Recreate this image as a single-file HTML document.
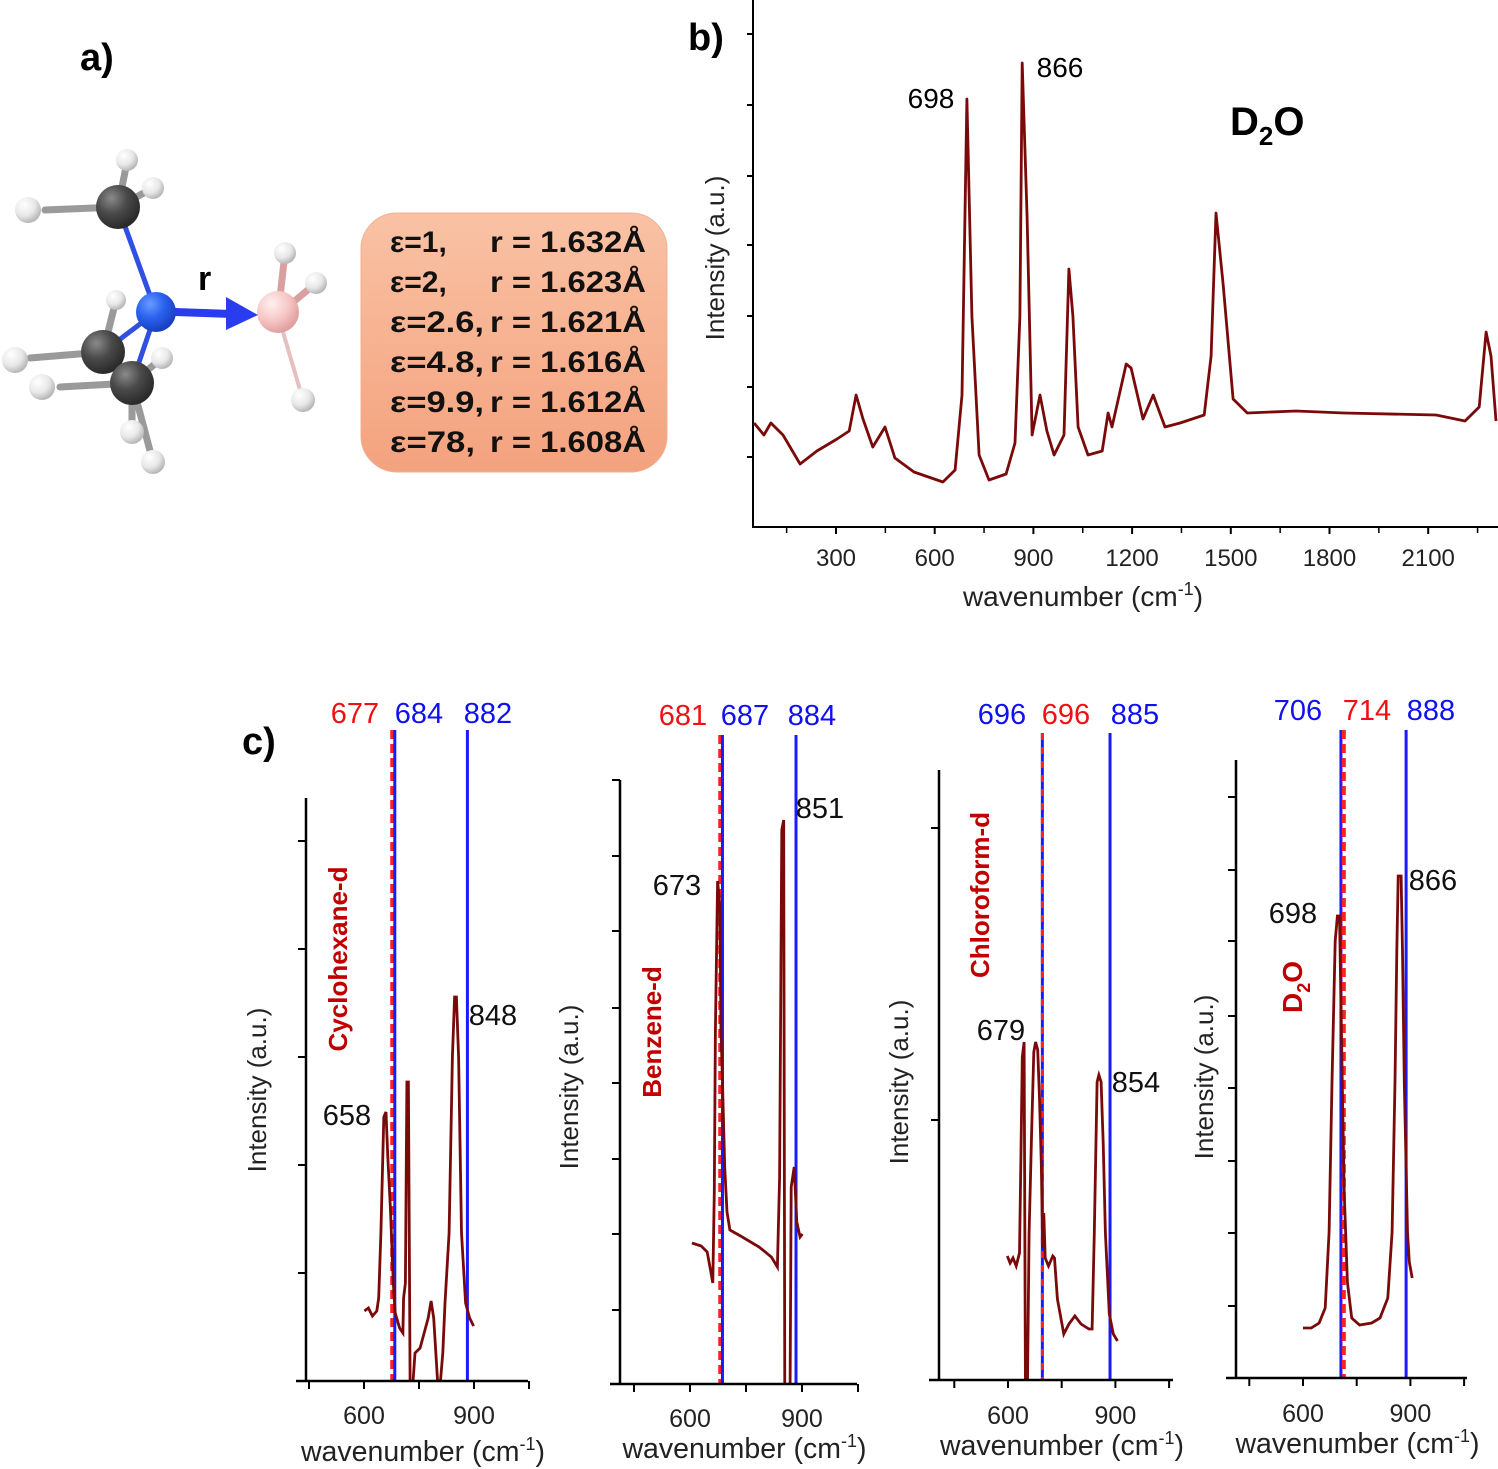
<!DOCTYPE html>
<html><head><meta charset="utf-8">
<style>
html,body{margin:0;padding:0;background:#fff;}
svg{display:block;font-family:"Liberation Sans",Arial,sans-serif;}
</style></head>
<body>
<svg id="fig" xmlns="http://www.w3.org/2000/svg" width="1498" height="1469" viewBox="0 0 1498 1469">
<defs>
<radialGradient id="gC" cx="35%" cy="30%" r="70%"><stop offset="0" stop-color="#8a8a8a"/><stop offset="0.5" stop-color="#4a4a4a"/><stop offset="1" stop-color="#2a2a2a"/></radialGradient>
<radialGradient id="gN" cx="35%" cy="30%" r="70%"><stop offset="0" stop-color="#6a9bff"/><stop offset="0.5" stop-color="#2a63f0"/><stop offset="1" stop-color="#1840c0"/></radialGradient>
<radialGradient id="gB" cx="35%" cy="30%" r="70%"><stop offset="0" stop-color="#fff0f0"/><stop offset="0.6" stop-color="#f6c4c4"/><stop offset="1" stop-color="#e0a0a0"/></radialGradient>
<radialGradient id="gH" cx="35%" cy="30%" r="70%"><stop offset="0" stop-color="#ffffff"/><stop offset="0.6" stop-color="#e8e8e8"/><stop offset="1" stop-color="#b8b8b8"/></radialGradient>
<linearGradient id="gBox" x1="0" y1="0" x2="0" y2="1"><stop offset="0" stop-color="#f9c2a4"/><stop offset="1" stop-color="#f4a27e"/></linearGradient>
</defs>

<!-- Panel a -->
<text x="80" y="70" font-size="38" font-weight="bold">a)</text>
<g>
  <g stroke="#9a9a9a" stroke-width="7" stroke-linecap="round">
    <line x1="118" y1="207" x2="127" y2="162"/><line x1="118" y1="207" x2="153" y2="188"/><line x1="118" y1="207" x2="45" y2="210"/>
    <line x1="103" y1="352" x2="30" y2="358"/><line x1="103" y1="352" x2="116" y2="300"/>
    <line x1="132" y1="383" x2="60" y2="387"/><line x1="132" y1="383" x2="162" y2="358"/><line x1="132" y1="383" x2="132" y2="432"/><line x1="132" y1="383" x2="153" y2="462"/>
    <line x1="278" y1="315" x2="285" y2="253" stroke="#d9a0a0"/><line x1="278" y1="315" x2="316" y2="283" stroke="#d9a0a0"/><line x1="278" y1="315" x2="303" y2="400" stroke="#e6c0c0" stroke-width="4"/>
  </g>
  <line x1="118" y1="207" x2="156" y2="312" stroke="#3050e0" stroke-width="5"/>
  <line x1="103" y1="352" x2="156" y2="312" stroke="#3050e0" stroke-width="5"/>
  <line x1="132" y1="383" x2="156" y2="312" stroke="#3050e0" stroke-width="5"/>
  <circle cx="127" cy="160" r="11" fill="url(#gH)"/><circle cx="153" cy="188" r="11" fill="url(#gH)"/><circle cx="28" cy="210" r="13" fill="url(#gH)"/>
  <circle cx="118" cy="207" r="22" fill="url(#gC)"/>
  <circle cx="116" cy="300" r="10" fill="url(#gH)"/>
  <circle cx="15" cy="360" r="13" fill="url(#gH)"/><circle cx="42" cy="387" r="13" fill="url(#gH)"/><circle cx="162" cy="358" r="11" fill="url(#gH)"/>
  <circle cx="103" cy="352" r="22" fill="url(#gC)"/>
  <circle cx="132" cy="383" r="22" fill="url(#gC)"/>
  <circle cx="132" cy="432" r="12" fill="url(#gH)"/><circle cx="153" cy="462" r="12" fill="url(#gH)"/>
  <circle cx="156" cy="312" r="20" fill="url(#gN)"/>
  <circle cx="285" cy="253" r="11" fill="url(#gH)"/><circle cx="316" cy="283" r="11" fill="url(#gH)"/><circle cx="303" cy="400" r="12" fill="url(#gH)"/>
  <circle cx="278" cy="312" r="21" fill="url(#gB)"/>
  <line x1="175" y1="312" x2="232" y2="314" stroke="#2a3cf0" stroke-width="8"/>
  <polygon points="226,297 258,315 226,330" fill="#2a3cf0"/>
  <text x="198" y="290" font-size="34" font-weight="bold">r</text>
</g>
<g font-size="30" font-weight="bold" fill="#111">
  <rect x="361" y="213" width="306" height="259" rx="36" fill="url(#gBox)" stroke="#f0b090" stroke-width="1"/>
  <text x="390" y="252">ε=1,</text><text x="490" y="252" textLength="156" lengthAdjust="spacingAndGlyphs">r = 1.632Å</text>
  <text x="390" y="292">ε=2,</text><text x="490" y="292" textLength="156" lengthAdjust="spacingAndGlyphs">r = 1.623Å</text>
  <text x="390" y="332" textLength="94" lengthAdjust="spacingAndGlyphs">ε=2.6,</text><text x="490" y="332" textLength="156" lengthAdjust="spacingAndGlyphs">r = 1.621Å</text>
  <text x="390" y="372" textLength="94" lengthAdjust="spacingAndGlyphs">ε=4.8,</text><text x="490" y="372" textLength="156" lengthAdjust="spacingAndGlyphs">r = 1.616Å</text>
  <text x="390" y="412" textLength="94" lengthAdjust="spacingAndGlyphs">ε=9.9,</text><text x="490" y="412" textLength="156" lengthAdjust="spacingAndGlyphs">r = 1.612Å</text>
  <text x="390" y="452" textLength="85" lengthAdjust="spacingAndGlyphs">ε=78,</text><text x="490" y="452" textLength="156" lengthAdjust="spacingAndGlyphs">r = 1.608Å</text>
</g>

<!-- Panel b -->
<text x="688" y="50" font-size="38" font-weight="bold">b)</text>
<g id="pb"></g>

<!-- Panel c -->
<text x="242" y="754" font-size="38" font-weight="bold">c)</text>
<g id="pc"></g>
</svg>

<script>
// ---------- Panel b data ----------
var bWavenumbers = [51,81,102,139,191,242,303,340,361,382,412,449,479,537,625,662,683,698,713,735,765,817,844,859,866,881,896,920,941,963,993,1008,1020,1036,1066,1109,1127,1139,1182,1197,1233,1264,1300,1346,1419,1440,1455,1477,1507,1550,1698,1844,2124,2212,2255,2276,2291,2306];
var bIntensity   = [104,92,104,92,63,76,88,96,132,108,80,100,69,55,45,57,132,428,211,72,47,53,84,211,464,310,92,132,96,72,92,258,211,100,72,76,114,100,163,159,108,132,100,104,112,171,314,242,128,114,116,114,112,106,120,195,171,106];
var bXTicks = [300,600,900,1200,1500,1800,2100];
var bXMinor = [150,450,750,1050,1350,1650,1950,2250];
var bPeakLabels = ["698","866"];

// ---------- Panel c data ----------
var cTickLabels = [600,900];
var cMinorTicks = [450,750,1050];
var cyWn = [601,612,623,635,640,646,654,660,665,672,680,685,697,706,708,713,717,721,726,730,739,753,775,783,790,804,815,821,832,841,847,852,858,866,877,888,899];
var cyInt = [70,73,65,70,83,148,264,269,224,173,98,68,53,48,83,98,299,299,-20,-20,28,33,63,80,63,-20,28,78,148,324,384,384,324,148,78,63,55];
var bzWn = [605,630,646,655,661,665,668,674,680,683,687,693,699,707,740,785,818,834,840,846,851,854,862,868,871,879,886,895,901];
var bzInt = [141,138,132,114,101,192,353,503,478,353,302,217,172,154,147,137,127,117,207,554,564,-20,-20,-20,197,217,162,147,150];
var clWn = [598,606,614,623,632,636,640,645,649,654,659,666,672,677,683,688,693,697,700,704,713,725,730,738,756,770,787,804,826,835,841,849,854,860,866,872,883,894,906];
var clInt = [124,117,122,114,127,222,323,338,-20,-20,147,247,328,338,330,282,217,132,167,122,114,124,122,81,46,56,64,56,51,51,147,298,305,298,237,147,66,46,39];
var dWn = [600,623,645,662,673,681,690,696,702,705,711,715,724,736,758,792,815,837,849,857,862,866,874,878,883,892,897,905];
var dInt = [50,50,55,70,146,296,437,462,462,397,271,186,96,60,53,55,60,80,146,296,427,502,502,427,296,146,116,100];
var cyRefLines = [677,684,882];
var bzRefLines = [681,687,884];
var clRefLines = [696,696,885];
var dRefLines = [706,714,888];

var NS = "http://www.w3.org/2000/svg";
function mk(tag, attrs, parent){
  var e = document.createElementNS(NS, tag);
  for (var k in attrs) e.setAttribute(k, attrs[k]);
  if (parent) parent.appendChild(e);
  return e;
}
var SPEC = "#7a0a0a";

// ---------- draw panel b ----------
(function(){
  var g = document.getElementById('pb');
  var X0=753, Y0=527;
  function bx(w){ return 836 + (w-300)*0.329; }
  function by(v){ return Y0 - v; }
  var ax = mk('path',{d:'M'+X0+' 0 V'+Y0+' H1498',stroke:'#000','stroke-width':2,fill:'none'},g);
  
  
  var yt=[34,105,176,245,316,387,457];
  yt.forEach(function(t){ mk('line',{x1:X0-6,x2:X0,y1:t,y2:t,stroke:'#000','stroke-width':2},g); });
  bXTicks.forEach(function(t){
    mk('line',{x1:bx(t),x2:bx(t),y1:Y0,y2:Y0+7,stroke:'#000','stroke-width':2},g);
    var tx = mk('text',{x:bx(t),y:566,'font-size':24,'text-anchor':'middle',fill:'#222'},g);
    tx.textContent = t;
    
    
  });
  bXMinor.forEach(function(t){ mk('line',{x1:bx(t),x2:bx(t),y1:Y0,y2:Y0+6,stroke:'#000','stroke-width':1.5},g); });
  var d = bWavenumbers.map(function(w,i){ return (i?'L':'M')+bx(w).toFixed(1)+' '+by(bIntensity[i]).toFixed(1); }).join(' ');
  var p = mk('path',{d:d,stroke:SPEC,'stroke-width':2.8,fill:'none','stroke-linejoin':'round'},g);
  
  
  var l1 = mk('text',{x:931,y:108,'font-size':28,'text-anchor':'middle'},g); l1.textContent=bPeakLabels[0];
  
  
  var l2 = mk('text',{x:1060,y:77,'font-size':28,'text-anchor':'middle'},g); l2.textContent=bPeakLabels[1];
  
  
  var d2o = mk('text',{x:1230,y:135,'font-size':40,'font-weight':'bold'},g);
  d2o.innerHTML = 'D<tspan font-size="26" dy="10">2</tspan><tspan dy="-10">O</tspan>';
  
  
  var yl = mk('text',{transform:'translate(724,258) rotate(-90)','font-size':26,'text-anchor':'middle',fill:'#222'},g);
  yl.textContent='Intensity (a.u.)';
  
  
  var xl = mk('text',{x:1083,y:606,'font-size':28,'text-anchor':'middle',fill:'#222'},g);
  xl.innerHTML='wavenumber (cm<tspan font-size="18" dy="-11">-1</tspan><tspan dy="11">)</tspan>';
  
  
})();

// ---------- draw panel c ----------
var subplots = [
  {name:'cyclohexane', ax:306, top:798, bot:1381, right:528, x600:364, ppu:0.3667, refTop:730,
   wn:cyWn, iv:cyInt, refs:cyRefLines, refColors:['red','blue','blue'], refDash:[true,false,false],
   labY:723, labX:[355,419,488], labCol:['#f01010','#1010f0','#1010f0'],
   yticks:[841,949,1057,1165,1273], peaks:[['658',347,1125],['848',493,1025]],
   solvent:'Cyclohexane-d', solX:338, solY:959, yTitleX:266, yTitleY:1090, tickY:1424, titleY:1461},
  {name:'benzene', ax:620, top:780, bot:1384, right:857, x600:690, ppu:0.3733, refTop:735,
   wn:bzWn, iv:bzInt, refs:bzRefLines, refColors:['red','blue','blue'], refDash:[true,false,false],
   labY:725, labX:[683,745,812], labCol:['#f01010','#1010f0','#1010f0'],
   yticks:[780,856,931,1008,1083,1159,1234,1310], peaks:[['673',677,895],['851',820,818]],
   solvent:'Benzene-d', solX:652, solY:1032, yTitleX:578, yTitleY:1087, tickY:1427, titleY:1458},
  {name:'chloroform', ax:939, top:770, bot:1380, right:1173, x600:1008, ppu:0.358, refTop:733,
   wn:clWn, iv:clInt, refs:clRefLines, refColors:['mix','mix','blue'], refDash:[false,false,false],
   labY:724, labX:[1002,1066,1135], labCol:['#1010f0','#f01010','#1010f0'],
   yticks:[828,1120], peaks:[['679',1001,1040],['854',1136,1092]],
   solvent:'Chloroform-d', solX:980, solY:895, yTitleX:908, yTitleY:1082, tickY:1424, titleY:1455},
  {name:'d2o', ax:1236, top:760, bot:1378, right:1467, x600:1303, ppu:0.358, refTop:730,
   wn:dWn, iv:dInt, refs:dRefLines, refColors:['blue','red','blue'], refDash:[false,true,false],
   labY:720, labX:[1298,1367,1431], labCol:['#1010f0','#f01010','#1010f0'],
   yticks:[797,870,941,1016,1088,1161,1233,1306], peaks:[['698',1293,923],['866',1433,890]],
   solvent:'D2O', solX:1293, solY:987, yTitleX:1213, yTitleY:1077, tickY:1422, titleY:1453}
];
(function(){
  var root = document.getElementById('pc');
  subplots.forEach(function(s, si){
    var g = mk('g',{},root);
    
    
    function sx(w){ return s.x600 + (w-600)*s.ppu; }
    function sy(v){ return s.bot - v; }
    var clipId='clip'+si;
    var cp = mk('clipPath',{id:clipId},g);
    mk('rect',{x:s.ax,y:s.top-60,width:s.right-s.ax,height:s.bot-s.top+60},cp);
    s.refs.forEach(function(r,i){
      var x = sx(r), col = s.refColors[i];
      if (col==='mix'){
        if (i===0){
          var a = mk('line',{x1:x,x2:x,y1:s.refTop,y2:s.bot,stroke:'#1a1aff','stroke-width':3},g);
          
          
          mk('line',{x1:x,x2:x,y1:s.refTop,y2:s.bot,stroke:'#ff2020','stroke-width':3,'stroke-dasharray':'7,7'},g);
        }
      } else {
        var ln = mk('line',{x1:x,x2:x,y1:s.refTop,y2:s.bot,stroke:col==='red'?'#ff2020':'#1a1aff','stroke-width':s.refDash[i]?4:3},g);
        if (s.refDash[i]) ln.setAttribute('stroke-dasharray','9,5');
        
        
      }
      var t = mk('text',{x:s.labX[i],y:s.labY,'font-size':29,'text-anchor':'middle',fill:s.labCol[i]},g);
      t.textContent = r;
      
      
    });
    var d = s.wn.map(function(w,i){ return (i?'L':'M')+sx(w).toFixed(1)+' '+sy(s.iv[i]).toFixed(1); }).join(' ');
    var p = mk('path',{d:d,stroke:SPEC,'stroke-width':2.8,fill:'none','clip-path':'url(#'+clipId+')'},g);
    
    
    var axp = mk('path',{d:'M'+s.ax+' '+s.top+' V'+s.bot+' M'+(s.ax-10)+' '+s.bot+' H'+s.right,stroke:'#000','stroke-width':2.5,fill:'none'},g);
    
    
    s.yticks.forEach(function(t){ mk('line',{x1:s.ax-8,x2:s.ax,y1:t,y2:t,stroke:'#000','stroke-width':2},g); });
    cMinorTicks.forEach(function(t){ mk('line',{x1:sx(t),x2:sx(t),y1:s.bot,y2:s.bot+8,stroke:'#000','stroke-width':2},g); });
    cTickLabels.forEach(function(t){
      mk('line',{x1:sx(t),x2:sx(t),y1:s.bot,y2:s.bot+8,stroke:'#000','stroke-width':2},g);
      var tx = mk('text',{x:sx(t),y:s.tickY,'font-size':25,'text-anchor':'middle',fill:'#222'},g);
      tx.textContent=t;
      
      
    });
    var xt = mk('text',{x:(s.ax+s.right)/2+6,y:s.titleY,'font-size':28.5,'text-anchor':'middle',fill:'#222'},g);
    xt.innerHTML='wavenumber (cm<tspan font-size="18" dy="-11">-1</tspan><tspan dy="11">)</tspan>';
    
    
    var yt = mk('text',{transform:'translate('+s.yTitleX+','+s.yTitleY+') rotate(-90)','font-size':26,'text-anchor':'middle',fill:'#222'},g);
    yt.textContent='Intensity (a.u.)';
    
    
    s.peaks.forEach(function(pk){
      var t = mk('text',{x:pk[1],y:pk[2],'font-size':29,'text-anchor':'middle',fill:'#111'},g);
      t.textContent=pk[0];
      
      
    });
    var sl = mk('text',{transform:'translate('+(s.solX+9)+','+s.solY+') rotate(-90)','font-size':s.solvent==='D2O'?28:26,'font-weight':'bold','text-anchor':'middle',fill:'#c00000'},g);
    if (s.solvent==='D2O') sl.innerHTML='D<tspan font-size="18" dy="8">2</tspan><tspan dy="-8">O</tspan>';
    else sl.textContent=s.solvent;
    
    
  });
})();
</script>
</body></html>
